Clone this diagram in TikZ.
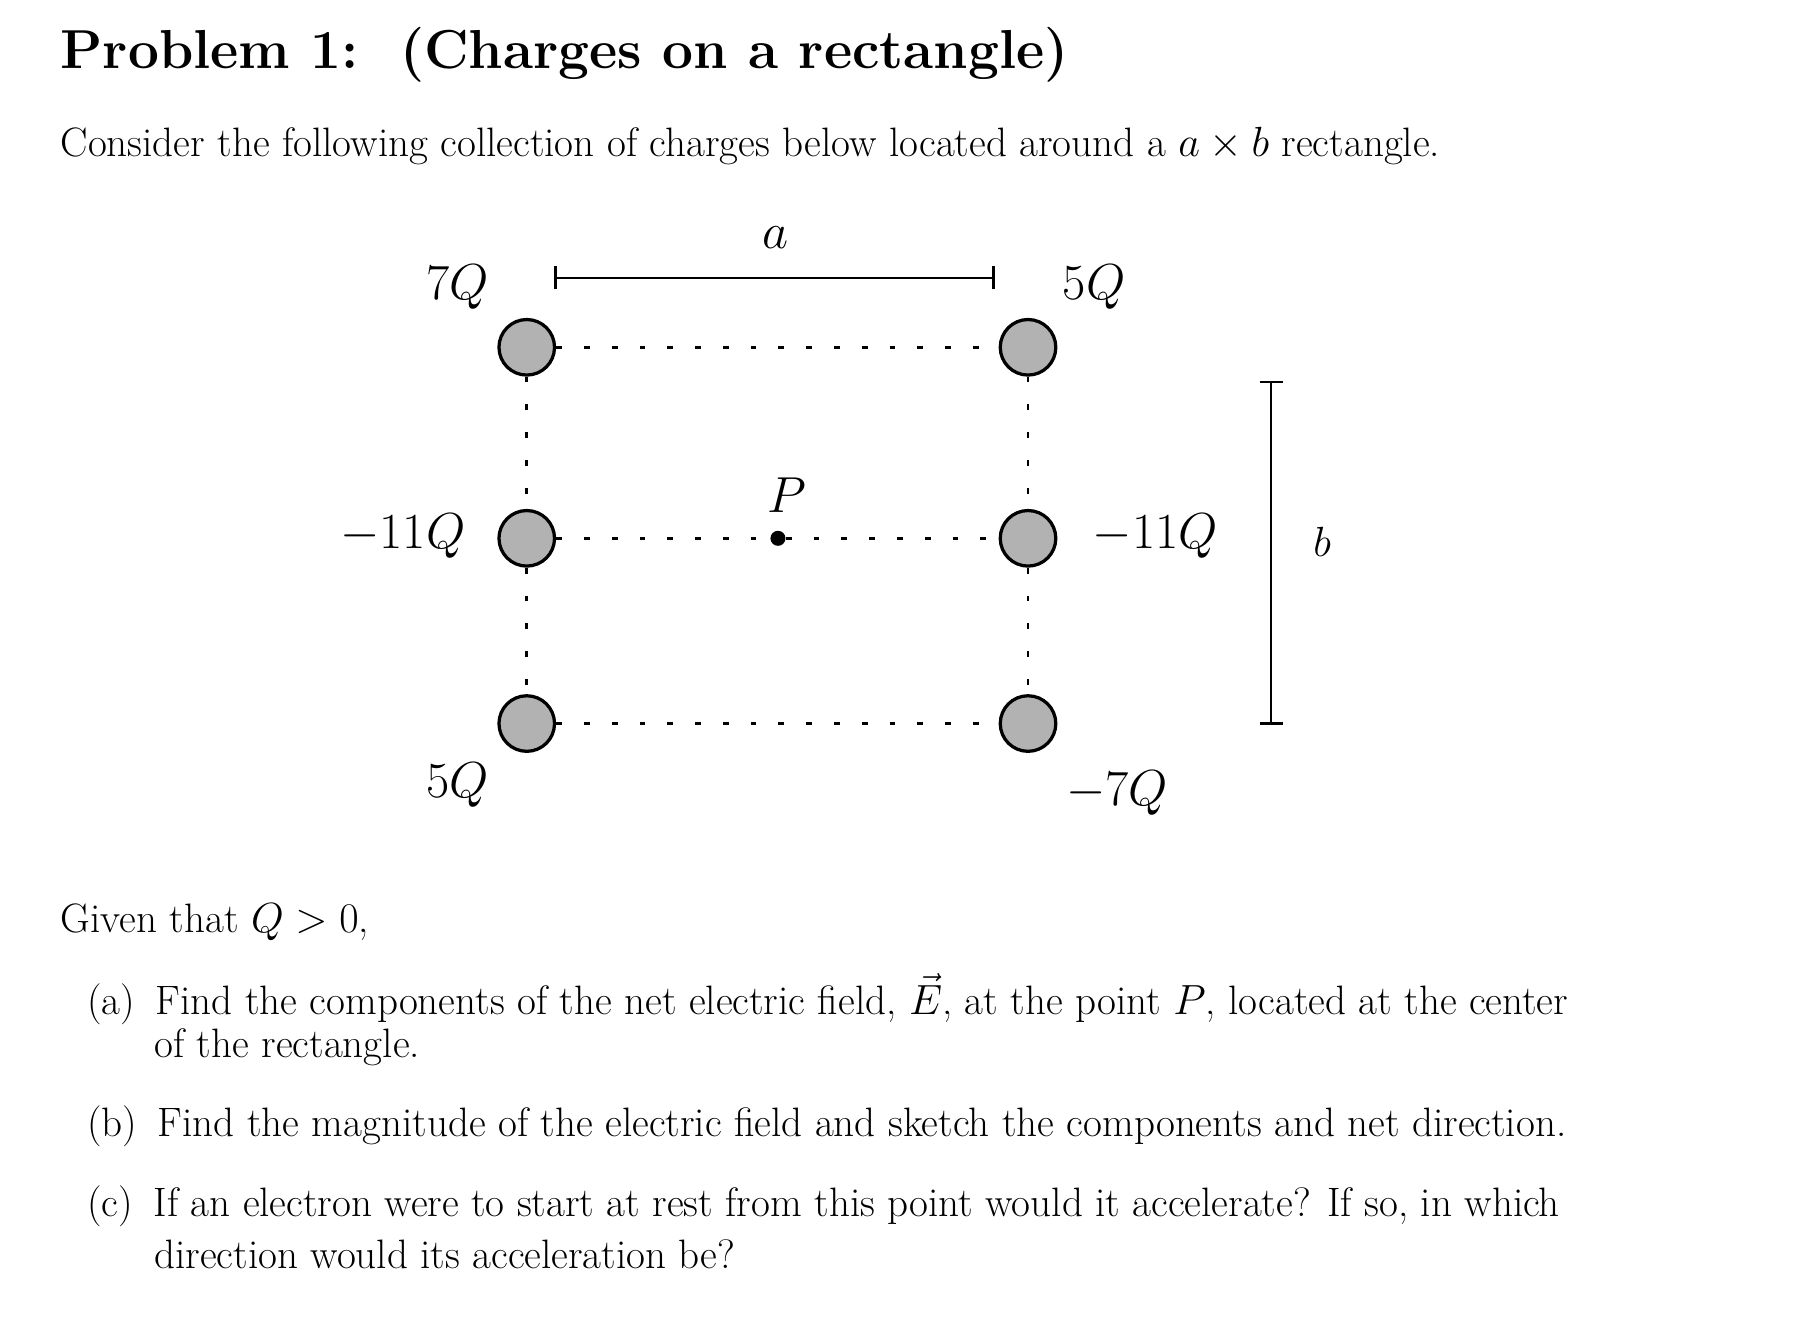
\documentclass[tikz,border=0pt]{standalone}
\begin{document}
\begin{tikzpicture}[x=0.02cm,y=-0.02cm,
  chg/.style={circle,draw,line width=1.6pt,fill=black!30,minimum size=0.96cm,inner sep=0pt},
  dl/.style={line width=1.4pt,dash pattern=on 0.1cm off 0.38cm},
  lab/.style={font=\fontsize{30.5}{34}\selectfont},
  txt/.style={anchor=west,font=\fontsize{20.2}{24}\selectfont,inner sep=0pt},
  dim/.style={line width=1.3pt}]
\useasboundingbox (0,0) rectangle (1560,1151);
\node[txt,font=\fontsize{27}{32}\selectfont\bfseries] (h) at (52,47) {Problem 1:\ \ (Charges on a rectangle)};
\node[txt] (t1) at (52,126) {Consider the following collection of charges below located around a $a\times b$ rectangle.};
\node[chg] (c1) at (455,300) {};
\node[chg] (c2) at (888,300) {};
\node[chg] (c3) at (455,465) {};
\node[chg] (c4) at (888,465) {};
\node[chg] (c5) at (455,625) {};
\node[chg] (c6) at (888,625) {};
\node[circle,fill=black,minimum size=0.26cm,inner sep=0pt] (p) at (672,465) {};
\draw[dl] (c1) -- (c2); \draw[dl] (c3) -- (p); \draw[dl] (p) -- (c4); \draw[dl] (c5) -- (c6);
\draw[dl] (c1) -- (c3); \draw[dl] (c3) -- (c5); \draw[dl] (c2) -- (c4); \draw[dl] (c4) -- (c6);
\node[lab] at (680,428) {$P$};
\node[lab] at (395,248) {$7Q$};
\node[lab] at (945,248) {$5Q$};
\node[lab] at (348,463) {$-11Q$};
\node[lab] at (998,463) {$-11Q$};
\node[lab] at (395,678) {$5Q$};
\node[lab] at (965,685) {$-7Q$};
\coordinate (a1) at (480,240); \coordinate (a2) at (858,240);
\draw[dim] (a1) -- (a2);
\draw[dim] ([yshift=-0.2cm]a1) -- ([yshift=0.2cm]a1);
\draw[dim] ([yshift=-0.2cm]a2) -- ([yshift=0.2cm]a2);
\node[lab,font=\fontsize{24}{28}\selectfont] at (670,205) {$a$};
\coordinate (b1) at (1098,330); \coordinate (b2) at (1098,625);
\draw[dim] (b1) -- (b2);
\draw[dim] ([xshift=-0.2cm]b1) -- ([xshift=0.2cm]b1);
\draw[dim] ([xshift=-0.2cm]b2) -- ([xshift=0.2cm]b2);
\node[lab,font=\fontsize{22}{26}\selectfont] at (1142,468) {$b$};
\node[txt] (g) at (52,797) {Given that $Q>0$,};
\node[txt] (ia) at (75,863) {(a)\enspace Find the components of the net electric field, $\vec{E}$, at the point $P$, located at the center};
\node[txt] (ia2) at (133,905) {of the rectangle.};
\node[txt] (ib) at (75,973) {(b)\enspace Find the magnitude of the electric field and sketch the components and net direction.};
\node[txt] (ic) at (75,1042) {(c)\enspace If an electron were to start at rest from this point would it accelerate? If so, in which};
\node[txt] (ic2) at (133,1083) {direction would its acceleration be?};
\end{tikzpicture}
\end{document}
